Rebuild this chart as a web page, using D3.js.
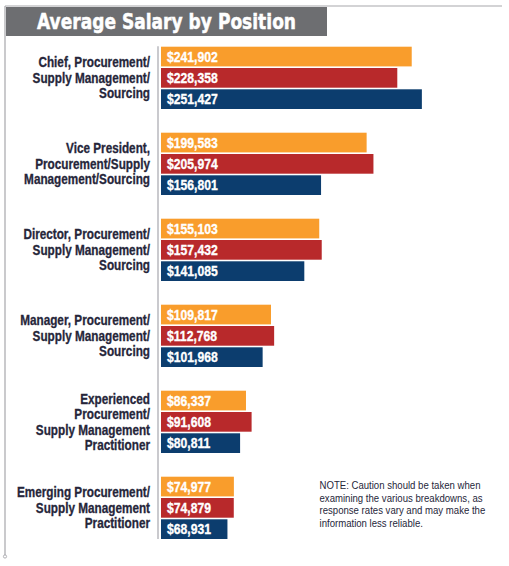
<!DOCTYPE html>
<html>
<head>
<meta charset="utf-8">
<script src="https://cdn.jsdelivr.net/npm/d3@7"></script>
<style>
  html, body { margin: 0; padding: 0; background: #fff; }
  svg { display: block; }
</style>
</head>
<body>
<svg id="chart" width="509" height="566"></svg>
<script>
// ---- data ----
const title = "Average Salary by Position";
const positions = [
  "Chief, Procurement/Supply Management/Sourcing",
  "Vice President, Procurement/Supply Management/Sourcing",
  "Director, Procurement/Supply Management/Sourcing",
  "Manager, Procurement/Supply Management/Sourcing",
  "Experienced Procurement/Supply Management Practitioner",
  "Emerging Procurement/Supply Management Practitioner"
];
const positionLines = [
  ["Chief, Procurement/", "Supply Management/", "Sourcing"],
  ["Vice President,", "Procurement/Supply", "Management/Sourcing"],
  ["Director, Procurement/", "Supply Management/", "Sourcing"],
  ["Manager, Procurement/", "Supply Management/", "Sourcing"],
  ["Experienced", "Procurement/", "Supply Management", "Practitioner"],
  ["Emerging Procurement/", "Supply Management", "Practitioner"]
];
const seriesNames = ["Orange", "Red", "Blue"];
const orangeValues = [241902, 199583, 155103, 109817, 86337, 74977];
const redValues    = [228358, 205974, 157432, 112768, 91608, 74879];
const blueValues   = [251427, 156801, 141085, 101968, 80811, 68931];
const seriesColors = ["#F99D2C", "#B8292B", "#0C3D6E"];
const noteLines = [
  "NOTE: Caution should be taken when",
  "examining the various breakdowns, as",
  "response rates vary and may make the",
  "information less reliable."
];

// ---- build ----
const seriesValues = [orangeValues, redValues, blueValues];
const rows = positions.map((p, i) => ({
  position: p,
  lines: positionLines[i],
  values: seriesNames.map((s, j) => ({ series: s, value: seriesValues[j][i], color: seriesColors[j] }))
}));

const svg = d3.select("#chart");
const font = "'Liberation Sans', Arial, Helvetica, sans-serif";
const textDark = "#26263a";
const condense = 0.84;

// frame
svg.append("line").attr("x1", 5).attr("x2", 502).attr("y1", 6).attr("y2", 6)
  .attr("stroke", "#a7a7ab").attr("stroke-width", 1.2);
svg.append("line").attr("x1", 5).attr("x2", 5).attr("y1", 6).attr("y2", 555)
  .attr("stroke", "#a7a7ab").attr("stroke-width", 1.2);
svg.append("circle").attr("cx", 5).attr("cy", 556.5).attr("r", 1.6)
  .attr("fill", "#fff").attr("stroke", "#a7a7ab").attr("stroke-width", 0.9);

// title box
svg.append("rect").attr("x", 6).attr("y", 7).attr("width", 321).attr("height", 29)
  .attr("fill", "#6d6e71");
svg.append("text").attr("x", 37).attr("y", 28.5)
  .attr("font-family", "'DejaVu Sans', Verdana, sans-serif")
  .attr("font-weight", "bold").attr("font-size", 21)
  .attr("fill", "#fff")
  .attr("stroke", "#fff").attr("stroke-width", 0.5)
  .attr("textLength", 259).attr("lengthAdjust", "spacingAndGlyphs")
  .text(title);

// scales
const y = d3.scaleBand().domain(positions).range([46.7, 539]).paddingInner(0.2756).paddingOuter(0);
const ySub = d3.scaleBand().domain(seriesNames).range([0, y.bandwidth()]).paddingInner(0.075);
const x = d3.scaleLinear().domain([0, 260000]).range([154, 431]);
const barLeft = 161;

// axis line
svg.append("line").attr("x1", 158).attr("x2", 158)
  .attr("y1", y.range()[0] - 0.5).attr("y2", y.range()[1])
  .attr("stroke", "#bdbdc2").attr("stroke-width", 1.6);

const groups = svg.selectAll("g.grp").data(rows).join("g")
  .attr("class", "grp")
  .attr("transform", d => `translate(0,${y(d.position)})`);

groups.selectAll("rect").data(d => d.values).join("rect")
  .attr("x", barLeft)
  .attr("y", d => ySub(d.series))
  .attr("width", d => x(d.value) - barLeft)
  .attr("height", ySub.bandwidth())
  .attr("fill", d => d.color);

const fmt = d3.format("$,");
groups.selectAll("text.val").data(d => d.values).join("text")
  .attr("class", "val")
  .attr("transform", d => `translate(${barLeft + 6},${ySub(d.series) + ySub.bandwidth() / 2 + 5.2}) scale(${condense},1)`)
  .attr("font-family", font).attr("font-weight", "bold")
  .attr("font-size", 14.5).attr("fill", "#fff")
  .attr("stroke", "#fff").attr("stroke-width", 0.35)
  .text(d => fmt(d.value));

// category labels
const lineH = 15.4;
groups.each(function(d) {
  const g = d3.select(this);
  const n = d.lines.length;
  const c = y.bandwidth() / 2;
  g.selectAll("text.cat").data(d.lines).join("text")
    .attr("class", "cat")
    .attr("transform", (l, i) => `translate(150,${c + (i - (n - 1) / 2) * lineH + 5}) scale(${condense},1)`)
    .attr("text-anchor", "end")
    .attr("font-family", font).attr("font-weight", "bold")
    .attr("font-size", 14).attr("fill", textDark)
    .attr("stroke", textDark).attr("stroke-width", 0.3)
    .text(l => l);
});

// note
svg.append("g").selectAll("text").data(noteLines).join("text")
  .attr("transform", (d, i) => `translate(319.5,${489 + i * 12.6}) scale(0.85,1)`)
  .attr("font-family", font)
  .attr("font-size", 11.3).attr("fill", textDark)
  .text(d => d);
</script>
</body>
</html>
